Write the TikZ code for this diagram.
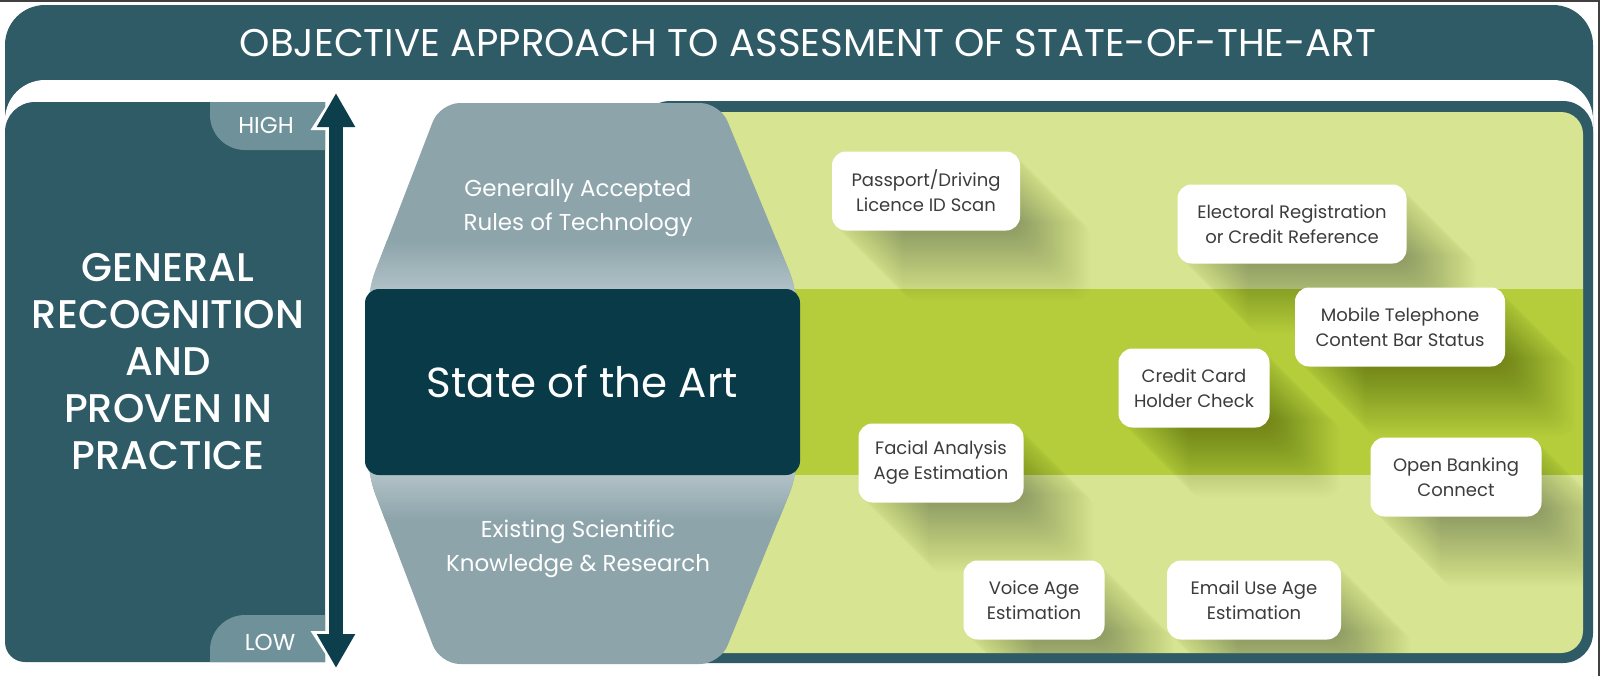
\documentclass[tikz,border=0pt]{standalone}
\usepackage{fontspec}
\setmainfont{Poppins}[BoldFont={Poppins Medium}]
\usetikzlibrary{calc,arrows.meta}

\definecolor{bannerteal}{HTML}{2E5B66}
\definecolor{tabteal}{HTML}{6F929A}
\definecolor{arrowdark}{HTML}{0C3E4C}
\definecolor{hexgray}{HTML}{8DA4AB}
\definecolor{hexlight}{HTML}{B2C3C7}
\definecolor{sotadark}{HTML}{083A48}
\definecolor{palegreen}{HTML}{D7E592}
\definecolor{limegreen}{HTML}{B5CD3B}
\definecolor{cardtext}{HTML}{3C3C3C}

\tikzset{
  card/.style={fill=white, rounded corners=7pt, minimum height=39.5pt, inner sep=0pt,
    align=center, text=cardtext, font=\fontsize{9}{12.5}\selectfont},
  hextext/.style={text=white, align=center, font=\fontsize{11.5}{17}\selectfont},
}

% card with its long shadow: name, x, y, width, text
\newcommand{\card}[5]{%
  \foreach \s in {2,4,...,70}
    \fill[black,opacity=.008,rounded corners=7pt] (#2-#4/2+\s,#3-39.5+\s) rectangle ++(#4,79);
  \node[card,minimum width=#4*0.5pt] (#1) at (#2,#3) {#5};
}

\begin{document}
\begin{tikzpicture}[x=0.5pt,y=-0.5pt]
\def\hexpath{(440,103) -- (720,103) -- (797,290) -- (797,475) -- (720,664)
  -- (440,664) -- (368,475) -- (368,290) -- cycle}

\fill[white] (0,0) rectangle (1600,676);
\useasboundingbox (0,0) rectangle (1600,676);
\draw[black!75,line width=1pt] (0,1) -- (1599,1) -- (1599,676);

% banner
\fill[bannerteal,rounded corners=20pt] (5,5) rectangle (1593,200);
\fill[white,rounded corners=20pt] (5,80) rectangle (1593,676);
\node[text=white,font=\fontsize{19.3}{19.3}\selectfont] (title) at (808,43)
  {OBJECTIVE APPROACH TO ASSESMENT OF STATE-OF-THE-ART};

% left panel
\fill[bannerteal] (325,102) -- (35,102) arc[start angle=270,end angle=180,radius=30]
  -- (5,642) arc[start angle=180,end angle=90,radius=20] -- (325,662) -- cycle;
\fill[tabteal] (325,102) -- (210,102) -- (210,115)
  arc[start angle=180,end angle=90,radius=35] -- (325,150) -- cycle;
\fill[tabteal] (325,662) -- (210,662) -- (210,650)
  arc[start angle=180,end angle=270,radius=35] -- (325,615) -- cycle;
\node[text=white,align=center,font=\bfseries\fontsize{20}{23.5}\selectfont] (recog) at (168,362)
  {GENERAL\\RECOGNITION\\AND\\PROVEN IN\\PRACTICE};
\node[text=white,font=\fontsize{11.5}{11.5}\selectfont] (high) at (266,125) {HIGH};
\node[text=white,font=\fontsize{11.5}{11.5}\selectfont] (low) at (270,642) {LOW};

% green panel
\fill[bannerteal,rounded corners=15pt] (640,101) rectangle (1593,663);
\fill[palegreen,rounded corners=11pt] (650,112) rectangle (1583,653);
\fill[limegreen] (650,289) rectangle (1583,475);

% methods
\begin{scope}
\clip[rounded corners=11pt] (650,112) rectangle (1583,653);
\card{passport}{926}{191}{188}{Passport/Driving\\Licence ID Scan}
\card{electoral}{1292}{224}{229}{Electoral Registration\\or Credit Reference}
\card{mobile}{1400}{327}{210}{Mobile Telephone\\Content Bar Status}
\card{creditcard}{1194}{388}{151}{Credit Card\\Holder Check}
\card{facial}{941}{463}{165}{Facial Analysis\\Age Estimation}
\card{openbanking}{1456}{477}{171}{Open Banking\\Connect}
\card{voice}{1034}{600}{141}{Voice Age\\Estimation}
\card{email}{1254}{600}{174}{Email Use Age\\Estimation}
\end{scope}

% hexagon
\fill[hexgray,rounded corners=10pt] \hexpath;
\begin{scope}
\clip[rounded corners=10pt] \hexpath;
\shade[top color=hexgray,bottom color=hexlight] (360,240) rectangle (805,292);
\shade[top color=hexlight,bottom color=hexgray] (360,473) rectangle (805,520);
\end{scope}
\node[fill=sotadark,rounded corners=7pt,minimum width=217.5pt,minimum height=93pt,
  text=white,font=\fontsize{21}{21}\selectfont] (sota) at (582.5,382) {State of the Art};
\node[hextext] (rules) at (578,208) {Generally Accepted\\Rules of Technology};
\node[hextext] (science) at (578,549) {Existing Scientific\\Knowledge \& Research};

% scale arrow
\coordinate (hi) at (336,93);
\coordinate (lo) at (336,668);
\draw[white,line width=10pt,{Triangle[length=20pt,width=24pt]}-{Triangle[length=20pt,width=24pt]},
  shorten <=-1.5pt,shorten >=-1.5pt] (hi) -- (lo);
\draw[arrowdark,line width=7pt,{Triangle[length=17pt,width=18pt]}-{Triangle[length=17pt,width=18pt]}]
  (hi) -- (lo);
\end{tikzpicture}
\end{document}
